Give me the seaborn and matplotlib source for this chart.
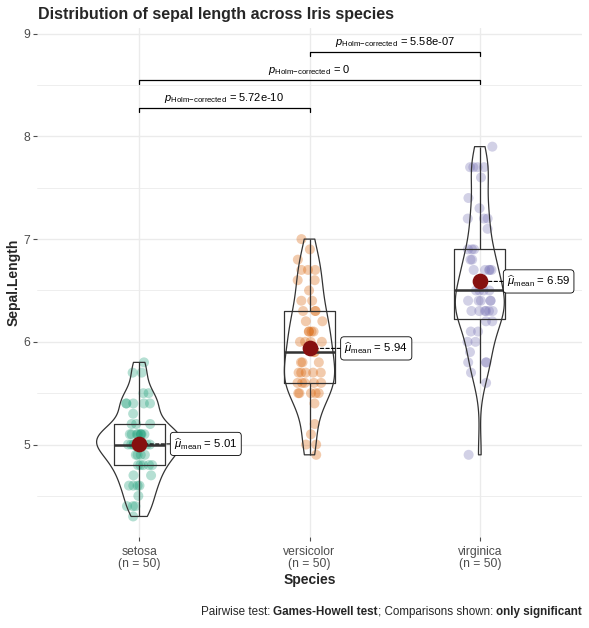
import numpy as np
import pandas as pd
import matplotlib
matplotlib.use("Agg")
import matplotlib.pyplot as plt
import seaborn as sns

species = ["setosa", "versicolor", "virginica"]

setosa = [5.1, 4.9, 4.7, 4.6, 5.0, 5.4, 4.6, 5.0, 4.4, 4.9, 5.4, 4.8, 4.8, 4.3, 5.8, 5.7, 5.4,
          5.1, 5.7, 5.1, 5.4, 5.1, 4.6, 5.1, 4.8, 5.0, 5.0, 5.2, 5.2, 4.7, 4.8, 5.4, 5.2, 5.5,
          4.9, 5.0, 5.5, 4.9, 4.4, 5.1, 5.0, 4.5, 4.4, 5.0, 5.1, 4.8, 5.1, 4.6, 5.3, 5.0]
versicolor = [7.0, 6.4, 6.9, 5.5, 6.5, 5.7, 6.3, 4.9, 6.6, 5.2, 5.0, 5.9, 6.0, 6.1, 5.6, 6.7, 5.6,
              5.8, 6.2, 5.6, 5.9, 6.1, 6.3, 6.1, 6.4, 6.6, 6.8, 6.7, 6.0, 5.7, 5.5, 5.5, 5.8, 6.0,
              5.4, 6.0, 6.7, 6.3, 5.6, 5.5, 5.5, 6.1, 5.8, 5.0, 5.6, 5.7, 5.7, 6.2, 5.1, 5.7]
virginica = [6.3, 5.8, 7.1, 6.3, 6.5, 7.6, 4.9, 7.3, 6.7, 7.2, 6.5, 6.4, 6.8, 5.7, 5.8, 6.4, 6.5,
             7.7, 7.7, 6.0, 6.9, 5.6, 7.7, 6.3, 6.7, 7.2, 6.2, 6.1, 6.4, 7.2, 7.4, 7.9, 6.4, 6.3,
             6.1, 7.7, 6.3, 6.4, 6.0, 6.9, 6.7, 6.9, 5.8, 6.8, 6.7, 6.7, 6.3, 6.5, 6.2, 5.9]

# significant pairwise comparisons (Games-Howell, Holm corrected)
pair_a = ["setosa", "setosa", "versicolor"]
pair_b = ["versicolor", "virginica", "virginica"]
pair_p = ["5.72e-10", "0", "5.58e-07"]

colors = ["#1B9E77", "#D95F02", "#7570B3"]

df = pd.DataFrame({
    "Species": ["setosa"] * len(setosa) + ["versicolor"] * len(versicolor) + ["virginica"] * len(virginica),
    "Sepal.Length": setosa + versicolor + virginica,
})

sns.set_theme(style="white")
plt.rcParams["font.family"] = ["Liberation Sans", "DejaVu Sans"]
plt.rcParams["mathtext.fontset"] = "custom"
plt.rcParams["mathtext.rm"] = "Liberation Sans"
plt.rcParams["mathtext.it"] = "Liberation Sans:italic"
plt.rcParams["mathtext.bf"] = "Liberation Sans:bold"

fig = plt.figure(figsize=(5.89, 6.28), dpi=100)
ax = fig.add_axes([37 / 589, 1 - 537 / 628, 545 / 589, 509 / 628])


def nrd0(kde):
    # R's default bandwidth (bw.nrd0) expressed as a scipy factor
    x = kde.dataset.ravel()
    sd = np.std(x, ddof=1)
    iqr = np.subtract(*np.percentile(x, [75, 25]))
    bw = 0.9 * min(sd, iqr / 1.34) * len(x) ** (-0.2)
    return bw / sd


np.random.seed(3)
sns.stripplot(data=df, x="Species", y="Sepal.Length", hue="Species", order=species,
              palette=colors, alpha=0.32, size=7.2, linewidth=0, jitter=0.08,
              legend=False, ax=ax, zorder=2)
sns.boxplot(data=df, x="Species", y="Sepal.Length", order=species, width=0.3,
            fill=False, color="#333333", linewidth=0.9, showfliers=False, showcaps=False,
            medianprops={"linewidth": 1.8}, ax=ax, zorder=3)
sns.violinplot(data=df, x="Species", y="Sepal.Length", order=species, width=0.5,
               fill=False, color="#333333", linewidth=0.9, cut=0, inner=None,
               density_norm="area", bw_method=nrd0, ax=ax, zorder=3)

means = df.groupby("Species")["Sepal.Length"].mean().reindex(species)
offsets = [0.205, 0.205, 0.16]
for i, (name, m) in enumerate(means.items()):
    ax.annotate(r"$\widehat{\mu}_{\mathrm{mean}}$ = " + f"{m:.2f}",
                xy=(i, m), xytext=(i + offsets[i], m), ha="left", va="center",
                fontsize=8.2, color="black", zorder=6,
                bbox=dict(boxstyle="round,pad=0.33,rounding_size=0.3", fc="white", ec="black", lw=0.6),
                arrowprops=dict(arrowstyle="-", ls=(0, (3, 2)), lw=0.8, color="black",
                                shrinkA=0, shrinkB=0))
ax.scatter(range(len(species)), means.values, s=128, color="#861010", zorder=7, linewidths=0)

# comparison brackets
bracket_y = [8.28, 8.55, 8.82]
for a, b, p, yb in zip(pair_a, pair_b, pair_p, bracket_y):
    x1, x2 = species.index(a), species.index(b)
    ax.plot([x1, x1, x2, x2], [yb - 0.04, yb, yb, yb - 0.04], color="black", lw=0.9, zorder=4)
    ax.text((x1 + x2) / 2, yb + 0.03, r"$p_{\mathrm{Holm{-}corrected}}$ = " + p,
            ha="center", va="bottom", fontsize=8, color="black")

ax.set_xlim(-0.6, 2.6)
ax.set_ylim(4.1, 9.055)
ax.set_yticks([5, 6, 7, 8, 9])
ax.set_yticks([4.5, 5.5, 6.5, 7.5, 8.5], minor=True)
counts = df["Species"].value_counts().reindex(species)
ax.set_xticks(range(len(species)))
ax.set_xticklabels([f"{s}\n(n = {n})" for s, n in counts.items()], linespacing=1.0)
ax.tick_params(axis="both", which="major", labelsize=8.7, labelcolor="#4D4D4D",
               color="#4D4D4D", length=3, width=0.8, pad=2, bottom=True, left=True)
ax.tick_params(axis="x", which="major", pad=3.5)
ax.tick_params(axis="y", which="minor", length=0)
ax.grid(True, which="major", color="#EBEBEB", lw=1.0)
ax.grid(True, which="minor", axis="y", color="#EBEBEB", lw=0.6)
ax.set_axisbelow(True)
for s in ax.spines.values():
    s.set_visible(False)
ax.set_xlabel("")
ax.set_ylabel("")

fig.text(14 / 589, 1 - 282 / 628, "Sepal.Length", rotation=90, ha="center", va="center",
         fontsize=10, fontweight="bold")
fig.text(309.5 / 589, 1 - 580 / 628, "Species", ha="center", va="center",
         fontsize=10, fontweight="bold")
fig.text(38 / 589, 1 - 19 / 628, "Distribution of sepal length across Iris species",
         ha="left", va="baseline", fontsize=11.5, fontweight="bold")

# caption with mixed weights, laid out from the right edge
pieces = [("Pairwise test: ", "normal"), ("Games-Howell test", "bold"),
          ("; Comparisons shown: ", "normal"), ("only significant", "bold")]
renderer = fig.canvas.get_renderer()
xr = 582 / 589
for txt, w in reversed(pieces):
    t = fig.text(xr, 1 - 612 / 628, txt, ha="right", va="center", fontsize=8.4, fontweight=w)
    bb = t.get_window_extent(renderer)
    xr -= bb.width / fig.bbox.width

fig.savefig("out.png", dpi=100)
